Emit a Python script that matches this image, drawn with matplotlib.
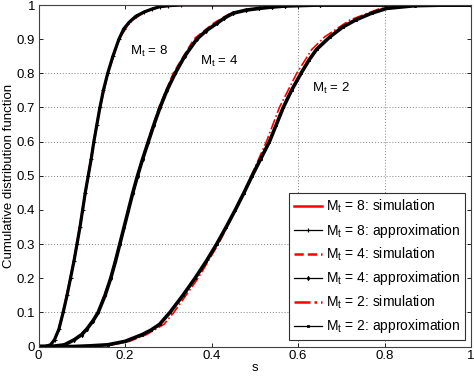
import matplotlib
matplotlib.use("Agg")
import matplotlib.pyplot as plt
from matplotlib.ticker import FormatStrFormatter

plt.rcParams['font.family'] = ['Liberation Sans', 'DejaVu Sans']
plt.rcParams['mathtext.fontset'] = 'custom'
plt.rcParams['mathtext.rm'] = 'Liberation Sans'

# ---- data ----
m8_s_approx = [0.0, 0.015, 0.028, 0.037, 0.047, 0.057, 0.066, 0.074, 0.082, 0.089, 0.096, 0.102,
               0.108, 0.115, 0.122, 0.128, 0.135, 0.142, 0.150, 0.160, 0.172, 0.186, 0.197,
               0.21, 0.225, 0.245, 0.262, 0.28, 0.30, 0.33, 0.40, 0.6, 0.8, 1.0]
m8_F_approx = [0.0, 0.0, 0.005, 0.02, 0.05, 0.1, 0.15, 0.2, 0.25, 0.3, 0.35, 0.4,
               0.45, 0.5, 0.55, 0.6, 0.65, 0.7, 0.75, 0.8, 0.85, 0.9, 0.93,
               0.95, 0.967, 0.98, 0.988, 0.995, 0.998, 1.0, 1.0, 1.0, 1.0, 1.0]
m8_s_sim = [0.0, 0.015, 0.028, 0.037, 0.047, 0.057, 0.074, 0.089, 0.102, 0.115, 0.128, 0.142,
            0.160, 0.186, 0.21, 0.245, 0.28, 0.33, 0.40, 1.0]
m8_F_sim = [0.0, 0.0, 0.005, 0.02, 0.05, 0.1, 0.2, 0.3, 0.4, 0.5, 0.6, 0.7,
            0.8, 0.9, 0.95, 0.98, 0.995, 1.0, 1.0, 1.0]

m4_s_approx = [0.0, 0.03, 0.06, 0.083, 0.1, 0.111, 0.126, 0.138, 0.154, 0.167, 0.178, 0.188,
               0.198, 0.208, 0.218, 0.229, 0.241, 0.254, 0.267, 0.281, 0.297, 0.316, 0.338,
               0.366, 0.388, 0.412, 0.43, 0.45, 0.48, 0.51, 0.54, 0.57, 0.65, 0.8, 1.0]
m4_F_approx = [0.0, 0.0, 0.005, 0.02, 0.035, 0.05, 0.075, 0.1, 0.15, 0.2, 0.25, 0.3,
               0.35, 0.4, 0.45, 0.5, 0.55, 0.6, 0.65, 0.7, 0.75, 0.8, 0.85,
               0.9, 0.925, 0.946, 0.962, 0.976, 0.985, 0.99, 0.994, 0.997, 1.0, 1.0, 1.0]
m4_s_sim = [0.0, 0.03, 0.06, 0.083, 0.111, 0.138, 0.167, 0.188, 0.208, 0.229, 0.253, 0.279,
            0.312, 0.36, 0.405, 0.445, 0.505, 0.57, 0.65, 1.0]
m4_F_sim = [0.0, 0.0, 0.005, 0.02, 0.05, 0.1, 0.2, 0.3, 0.4, 0.5, 0.6, 0.7,
            0.8, 0.9, 0.946, 0.976, 0.99, 0.997, 1.0, 1.0]

m2_s_approx = [0.0, 0.08, 0.12, 0.16, 0.2, 0.24, 0.26, 0.28, 0.304, 0.334, 0.362, 0.388,
               0.412, 0.434, 0.455, 0.475, 0.494, 0.514, 0.534, 0.55, 0.566, 0.585, 0.607,
               0.626, 0.643, 0.674, 0.703, 0.733, 0.77, 0.805, 0.87, 0.95, 1.0]
m2_F_approx = [0.0, 0.0, 0.002, 0.005, 0.015, 0.035, 0.048, 0.065, 0.1, 0.15, 0.2, 0.25,
               0.3, 0.35, 0.4, 0.45, 0.5, 0.55, 0.6, 0.65, 0.7, 0.75, 0.8,
               0.84, 0.87, 0.907, 0.935, 0.956, 0.976, 0.99, 0.998, 1.0, 1.0]
m2_s_sim = [0.0, 0.09, 0.17, 0.21, 0.25, 0.29, 0.313, 0.369, 0.416, 0.456, 0.492, 0.527,
            0.557, 0.597, 0.632, 0.662, 0.72, 0.79, 0.86, 0.94, 1.0]
m2_F_sim = [0.0, 0.0, 0.005, 0.015, 0.035, 0.065, 0.1, 0.2, 0.3, 0.4, 0.5, 0.6,
            0.7, 0.8, 0.87, 0.907, 0.956, 0.99, 0.998, 1.0, 1.0]

legend_labels = [r'$\mathregular{M_t}$ = 8: simulation', r'$\mathregular{M_t}$ = 8: approximation',
                 r'$\mathregular{M_t}$ = 4: simulation', r'$\mathregular{M_t}$ = 4: approximation',
                 r'$\mathregular{M_t}$ = 2: simulation', r'$\mathregular{M_t}$ = 2: approximation']
curve_labels = [r'$\mathregular{M_t}$ = 8', r'$\mathregular{M_t}$ = 4', r'$\mathregular{M_t}$ = 2']
curve_label_pos = [(0.212, 0.854), (0.373, 0.824), (0.632, 0.746)]

x_ticks = [0, 0.2, 0.4, 0.6, 0.8, 1]
y_ticks = [0, 0.1, 0.2, 0.3, 0.4, 0.5, 0.6, 0.7, 0.8, 0.9, 1]
visible_xgrid = [0.6, 0.8]
visible_ygrid = [0.1, 0.3, 0.5, 0.6, 0.7, 0.8]

# ---- figure ----
fig = plt.figure(figsize=(4.74, 3.76), dpi=100)
ax = fig.add_axes([38.5 / 474, 29.5 / 376, (471 - 38.5) / 474, (346.5 - 5) / 376])

for g in visible_xgrid:
    ax.axvline(g, color='#808080', linestyle=(0, (1, 2)), linewidth=0.7, zorder=0)
for g in visible_ygrid:
    ax.axhline(g, color='#808080', linestyle=(0, (1, 2)), linewidth=0.7, zorder=0)

red = '#ff0000'
ax.plot(m8_s_sim, m8_F_sim, color=red, linestyle='-', linewidth=1.6, label=legend_labels[0])
ax.plot(m8_s_approx, m8_F_approx, color='black', linestyle='-', linewidth=2.3,
        marker='+', markersize=3.5, markeredgewidth=0.8, label=legend_labels[1])
ax.plot(m4_s_sim, m4_F_sim, color=red, linestyle='--', linewidth=1.6, label=legend_labels[2])
ax.plot(m4_s_approx, m4_F_approx, color='black', linestyle='-', linewidth=2.6,
        marker='d', markersize=2.2, markeredgewidth=0.6, markerfacecolor='black', label=legend_labels[3])
ax.plot(m2_s_sim, m2_F_sim, color=red, linestyle='-.', linewidth=1.2, label=legend_labels[4])
ax.plot(m2_s_approx, m2_F_approx, color='black', linestyle='-', linewidth=2.6,
        marker='s', markersize=2.0, markeredgewidth=0.6, markerfacecolor='black', label=legend_labels[5])

for lab, (xs, ys) in zip(curve_labels, curve_label_pos):
    ax.text(xs, ys, lab, fontsize=9.5, ha='left', va='baseline')

ax.set_xlim(0, 1)
ax.set_ylim(0, 1)
ax.set_xticks(x_ticks)
ax.set_yticks(y_ticks)
ax.xaxis.set_major_formatter(FormatStrFormatter('%g'))
ax.yaxis.set_major_formatter(FormatStrFormatter('%g'))
ax.tick_params(direction='in', top=True, right=True, length=3, width=0.6,
               labelsize=9.5, pad=2.5)
for sp in ax.spines.values():
    sp.set_linewidth(0.8)
    sp.set_color('#404040')

ax.set_xlabel('s', fontsize=9.5, labelpad=0)
ax.set_ylabel('Cumulative distribution function', fontsize=9.5, labelpad=1)

leg = ax.legend(loc='lower right', fontsize=10, frameon=True, fancybox=False,
                framealpha=1, edgecolor='#303030', handlelength=2.0, handletextpad=0.25,
                labelspacing=0.45, borderaxespad=0.45, borderpad=0.35)
leg.get_frame().set_linewidth(0.8)
for i, ln in enumerate(leg.get_lines()):
    if i % 2 == 1:
        ln.set_linewidth(0.9)
    else:
        ln.set_linewidth(1.8)

fig.savefig('out.png', dpi=100)
